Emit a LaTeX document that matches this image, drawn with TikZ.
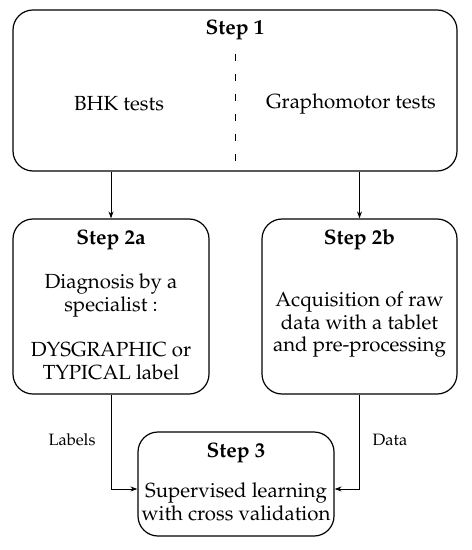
\documentclass[tikz,border=0pt]{standalone}
\usepackage[T1]{fontenc}
\usepackage{mathpazo}
\usetikzlibrary{arrows.meta}

\begin{document}
\begin{tikzpicture}[x=1bp, y=-1bp,
    stepbox/.style={draw, rounded corners=20bp, line width=1.2bp, inner sep=0pt},
    txt/.style={align=center, font=\fontsize{20.5}{22.8}\selectfont},
    ttl/.style={font=\fontsize{21}{24}\selectfont\bfseries},
    lbl/.style={font=\fontsize{16.5}{20}\selectfont},
    flow/.style={-{Stealth[length=7bp,width=5bp]}, line width=0.9bp}]
    \useasboundingbox (0,0) rectangle (472,550);

    \path (235,90.5) node [stepbox, minimum width=444bp, minimum height=161bp] (s1) {};
    \path (235,30) node [ttl] (t1) {Step 1};
    \path (119,104) node [txt] (bhk) {BHK tests};
    \path (351,104) node [txt] (gra) {Graphomotor tests};
    \coordinate (dtop) at (235,54);
    \draw [line width=0.8bp, dash pattern=on 7bp off 13bp] (dtop) -- (s1.south);

    \path (111,306.5) node [stepbox, minimum width=196bp, minimum height=175bp] (s2a) {};
    \path (111,240) node [ttl] (t2a) {Step 2a};
    \path (111,327) node [txt] (diag) {Diagnosis by a\\ specialist :\\[22.8bp] DYSGRAPHIC or\\ TYPICAL label};
    \draw [flow] (s1.south -| s2a.north) -- (s2a.north);

    \path (359.5,306.5) node [stepbox, minimum width=195bp, minimum height=175bp] (s2b) {};
    \path (359.5,240) node [ttl] (t2b) {Step 2b};
    \path (359.5,324.5) node [txt] (acq) {Acquisition of raw\\ data with a tablet\\ and pre-processing};
    \draw [flow] (s1.south -| s2b.north) -- (s2b.north);

    \path (236,484) node [stepbox, minimum width=196bp, minimum height=104bp] (s3) {};
    \path (236,453) node [ttl] (t3) {Step 3};
    \path (236,501.5) node [txt] (sup) {Supervised learning\\ with cross validation};

    \draw [flow] (s2a.south) |- ([yshift=-5bp]s3.west);
    \path (72,440) node [lbl] (lab) {Labels};
    \draw [flow] (s2b.south) |- ([yshift=-5bp]s3.east);
    \path (390,440) node [lbl] (dat) {Data};
\end{tikzpicture}
\end{document}
